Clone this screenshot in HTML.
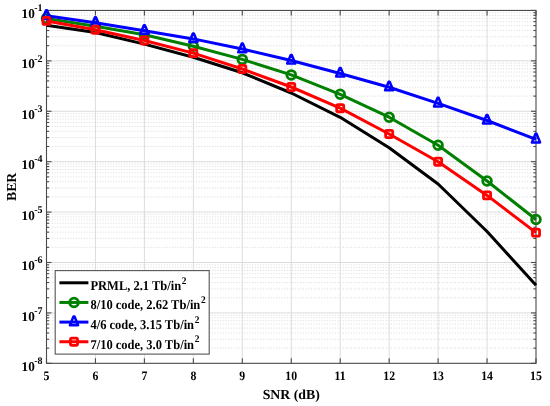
<!DOCTYPE html>
<html><head><meta charset="utf-8"><style>
html,body{margin:0;padding:0;background:#fff;}
svg{display:block;}
text{font-family:"Liberation Serif","Times New Roman",serif;font-weight:bold;fill:#000;text-rendering:geometricPrecision;}
.tl{font-size:13.2px;}
.xt{font-size:11.8px;}
.al{font-size:13.8px;}
.lg{font-size:12.5px;}
.sup{font-size:10px;}
.lsup{font-size:9.4px;}
.g{stroke:#dcdcdc;stroke-width:1;}
.mg{stroke:#dadada;stroke-width:1;stroke-dasharray:1 1.67;}
.t{stroke:#4a4a4a;stroke-width:1.1;}
</style></head><body>
<svg width="550" height="406" viewBox="0 0 550 406">
<rect x="0" y="0" width="550" height="406" fill="#fff"/>
<line x1="46.5" y1="45.69" x2="536.0" y2="45.69" class="mg"/>
<line x1="46.5" y1="36.81" x2="536.0" y2="36.81" class="mg"/>
<line x1="46.5" y1="30.51" x2="536.0" y2="30.51" class="mg"/>
<line x1="46.5" y1="25.62" x2="536.0" y2="25.62" class="mg"/>
<line x1="46.5" y1="21.63" x2="536.0" y2="21.63" class="mg"/>
<line x1="46.5" y1="18.26" x2="536.0" y2="18.26" class="mg"/>
<line x1="46.5" y1="15.34" x2="536.0" y2="15.34" class="mg"/>
<line x1="46.5" y1="12.76" x2="536.0" y2="12.76" class="mg"/>
<line x1="46.5" y1="96.10" x2="536.0" y2="96.10" class="mg"/>
<line x1="46.5" y1="87.22" x2="536.0" y2="87.22" class="mg"/>
<line x1="46.5" y1="80.92" x2="536.0" y2="80.92" class="mg"/>
<line x1="46.5" y1="76.03" x2="536.0" y2="76.03" class="mg"/>
<line x1="46.5" y1="72.04" x2="536.0" y2="72.04" class="mg"/>
<line x1="46.5" y1="68.67" x2="536.0" y2="68.67" class="mg"/>
<line x1="46.5" y1="65.75" x2="536.0" y2="65.75" class="mg"/>
<line x1="46.5" y1="63.17" x2="536.0" y2="63.17" class="mg"/>
<line x1="46.5" y1="146.51" x2="536.0" y2="146.51" class="mg"/>
<line x1="46.5" y1="137.63" x2="536.0" y2="137.63" class="mg"/>
<line x1="46.5" y1="131.33" x2="536.0" y2="131.33" class="mg"/>
<line x1="46.5" y1="126.44" x2="536.0" y2="126.44" class="mg"/>
<line x1="46.5" y1="122.45" x2="536.0" y2="122.45" class="mg"/>
<line x1="46.5" y1="119.08" x2="536.0" y2="119.08" class="mg"/>
<line x1="46.5" y1="116.16" x2="536.0" y2="116.16" class="mg"/>
<line x1="46.5" y1="113.58" x2="536.0" y2="113.58" class="mg"/>
<line x1="46.5" y1="196.92" x2="536.0" y2="196.92" class="mg"/>
<line x1="46.5" y1="188.04" x2="536.0" y2="188.04" class="mg"/>
<line x1="46.5" y1="181.74" x2="536.0" y2="181.74" class="mg"/>
<line x1="46.5" y1="176.85" x2="536.0" y2="176.85" class="mg"/>
<line x1="46.5" y1="172.86" x2="536.0" y2="172.86" class="mg"/>
<line x1="46.5" y1="169.49" x2="536.0" y2="169.49" class="mg"/>
<line x1="46.5" y1="166.57" x2="536.0" y2="166.57" class="mg"/>
<line x1="46.5" y1="163.99" x2="536.0" y2="163.99" class="mg"/>
<line x1="46.5" y1="247.33" x2="536.0" y2="247.33" class="mg"/>
<line x1="46.5" y1="238.45" x2="536.0" y2="238.45" class="mg"/>
<line x1="46.5" y1="232.15" x2="536.0" y2="232.15" class="mg"/>
<line x1="46.5" y1="227.26" x2="536.0" y2="227.26" class="mg"/>
<line x1="46.5" y1="223.27" x2="536.0" y2="223.27" class="mg"/>
<line x1="46.5" y1="219.90" x2="536.0" y2="219.90" class="mg"/>
<line x1="46.5" y1="216.98" x2="536.0" y2="216.98" class="mg"/>
<line x1="46.5" y1="214.40" x2="536.0" y2="214.40" class="mg"/>
<line x1="46.5" y1="297.74" x2="536.0" y2="297.74" class="mg"/>
<line x1="46.5" y1="288.86" x2="536.0" y2="288.86" class="mg"/>
<line x1="46.5" y1="282.56" x2="536.0" y2="282.56" class="mg"/>
<line x1="46.5" y1="277.67" x2="536.0" y2="277.67" class="mg"/>
<line x1="46.5" y1="273.68" x2="536.0" y2="273.68" class="mg"/>
<line x1="46.5" y1="270.31" x2="536.0" y2="270.31" class="mg"/>
<line x1="46.5" y1="267.39" x2="536.0" y2="267.39" class="mg"/>
<line x1="46.5" y1="264.81" x2="536.0" y2="264.81" class="mg"/>
<line x1="46.5" y1="348.15" x2="536.0" y2="348.15" class="mg"/>
<line x1="46.5" y1="339.27" x2="536.0" y2="339.27" class="mg"/>
<line x1="46.5" y1="332.97" x2="536.0" y2="332.97" class="mg"/>
<line x1="46.5" y1="328.08" x2="536.0" y2="328.08" class="mg"/>
<line x1="46.5" y1="324.09" x2="536.0" y2="324.09" class="mg"/>
<line x1="46.5" y1="320.72" x2="536.0" y2="320.72" class="mg"/>
<line x1="46.5" y1="317.80" x2="536.0" y2="317.80" class="mg"/>
<line x1="46.5" y1="315.22" x2="536.0" y2="315.22" class="mg"/>
<line x1="95.45" y1="10.45" x2="95.45" y2="363.32" class="g"/>
<line x1="144.40" y1="10.45" x2="144.40" y2="363.32" class="g"/>
<line x1="193.35" y1="10.45" x2="193.35" y2="363.32" class="g"/>
<line x1="242.30" y1="10.45" x2="242.30" y2="363.32" class="g"/>
<line x1="291.25" y1="10.45" x2="291.25" y2="363.32" class="g"/>
<line x1="340.20" y1="10.45" x2="340.20" y2="363.32" class="g"/>
<line x1="389.15" y1="10.45" x2="389.15" y2="363.32" class="g"/>
<line x1="438.10" y1="10.45" x2="438.10" y2="363.32" class="g"/>
<line x1="487.05" y1="10.45" x2="487.05" y2="363.32" class="g"/>
<line x1="46.5" y1="60.86" x2="536.0" y2="60.86" class="g"/>
<line x1="46.5" y1="111.27" x2="536.0" y2="111.27" class="g"/>
<line x1="46.5" y1="161.68" x2="536.0" y2="161.68" class="g"/>
<line x1="46.5" y1="212.09" x2="536.0" y2="212.09" class="g"/>
<line x1="46.5" y1="262.50" x2="536.0" y2="262.50" class="g"/>
<line x1="46.5" y1="312.91" x2="536.0" y2="312.91" class="g"/>
<rect x="46.5" y="10.45" width="489.50" height="352.87" fill="none" stroke="#4a4a4a" stroke-width="1.1"/>
<line x1="46.50" y1="363.32" x2="46.50" y2="358.32" class="t"/>
<line x1="46.50" y1="10.45" x2="46.50" y2="15.45" class="t"/>
<line x1="95.45" y1="363.32" x2="95.45" y2="358.32" class="t"/>
<line x1="95.45" y1="10.45" x2="95.45" y2="15.45" class="t"/>
<line x1="144.40" y1="363.32" x2="144.40" y2="358.32" class="t"/>
<line x1="144.40" y1="10.45" x2="144.40" y2="15.45" class="t"/>
<line x1="193.35" y1="363.32" x2="193.35" y2="358.32" class="t"/>
<line x1="193.35" y1="10.45" x2="193.35" y2="15.45" class="t"/>
<line x1="242.30" y1="363.32" x2="242.30" y2="358.32" class="t"/>
<line x1="242.30" y1="10.45" x2="242.30" y2="15.45" class="t"/>
<line x1="291.25" y1="363.32" x2="291.25" y2="358.32" class="t"/>
<line x1="291.25" y1="10.45" x2="291.25" y2="15.45" class="t"/>
<line x1="340.20" y1="363.32" x2="340.20" y2="358.32" class="t"/>
<line x1="340.20" y1="10.45" x2="340.20" y2="15.45" class="t"/>
<line x1="389.15" y1="363.32" x2="389.15" y2="358.32" class="t"/>
<line x1="389.15" y1="10.45" x2="389.15" y2="15.45" class="t"/>
<line x1="438.10" y1="363.32" x2="438.10" y2="358.32" class="t"/>
<line x1="438.10" y1="10.45" x2="438.10" y2="15.45" class="t"/>
<line x1="487.05" y1="363.32" x2="487.05" y2="358.32" class="t"/>
<line x1="487.05" y1="10.45" x2="487.05" y2="15.45" class="t"/>
<line x1="536.00" y1="363.32" x2="536.00" y2="358.32" class="t"/>
<line x1="536.00" y1="10.45" x2="536.00" y2="15.45" class="t"/>
<line x1="46.5" y1="10.45" x2="51.5" y2="10.45" class="t"/>
<line x1="536.0" y1="10.45" x2="531.0" y2="10.45" class="t"/>
<line x1="46.5" y1="45.69" x2="49.1" y2="45.69" class="t"/>
<line x1="536.0" y1="45.69" x2="533.4" y2="45.69" class="t"/>
<line x1="46.5" y1="36.81" x2="49.1" y2="36.81" class="t"/>
<line x1="536.0" y1="36.81" x2="533.4" y2="36.81" class="t"/>
<line x1="46.5" y1="30.51" x2="49.1" y2="30.51" class="t"/>
<line x1="536.0" y1="30.51" x2="533.4" y2="30.51" class="t"/>
<line x1="46.5" y1="25.62" x2="49.1" y2="25.62" class="t"/>
<line x1="536.0" y1="25.62" x2="533.4" y2="25.62" class="t"/>
<line x1="46.5" y1="21.63" x2="49.1" y2="21.63" class="t"/>
<line x1="536.0" y1="21.63" x2="533.4" y2="21.63" class="t"/>
<line x1="46.5" y1="18.26" x2="49.1" y2="18.26" class="t"/>
<line x1="536.0" y1="18.26" x2="533.4" y2="18.26" class="t"/>
<line x1="46.5" y1="15.34" x2="49.1" y2="15.34" class="t"/>
<line x1="536.0" y1="15.34" x2="533.4" y2="15.34" class="t"/>
<line x1="46.5" y1="12.76" x2="49.1" y2="12.76" class="t"/>
<line x1="536.0" y1="12.76" x2="533.4" y2="12.76" class="t"/>
<line x1="46.5" y1="60.86" x2="51.5" y2="60.86" class="t"/>
<line x1="536.0" y1="60.86" x2="531.0" y2="60.86" class="t"/>
<line x1="46.5" y1="96.10" x2="49.1" y2="96.10" class="t"/>
<line x1="536.0" y1="96.10" x2="533.4" y2="96.10" class="t"/>
<line x1="46.5" y1="87.22" x2="49.1" y2="87.22" class="t"/>
<line x1="536.0" y1="87.22" x2="533.4" y2="87.22" class="t"/>
<line x1="46.5" y1="80.92" x2="49.1" y2="80.92" class="t"/>
<line x1="536.0" y1="80.92" x2="533.4" y2="80.92" class="t"/>
<line x1="46.5" y1="76.03" x2="49.1" y2="76.03" class="t"/>
<line x1="536.0" y1="76.03" x2="533.4" y2="76.03" class="t"/>
<line x1="46.5" y1="72.04" x2="49.1" y2="72.04" class="t"/>
<line x1="536.0" y1="72.04" x2="533.4" y2="72.04" class="t"/>
<line x1="46.5" y1="68.67" x2="49.1" y2="68.67" class="t"/>
<line x1="536.0" y1="68.67" x2="533.4" y2="68.67" class="t"/>
<line x1="46.5" y1="65.75" x2="49.1" y2="65.75" class="t"/>
<line x1="536.0" y1="65.75" x2="533.4" y2="65.75" class="t"/>
<line x1="46.5" y1="63.17" x2="49.1" y2="63.17" class="t"/>
<line x1="536.0" y1="63.17" x2="533.4" y2="63.17" class="t"/>
<line x1="46.5" y1="111.27" x2="51.5" y2="111.27" class="t"/>
<line x1="536.0" y1="111.27" x2="531.0" y2="111.27" class="t"/>
<line x1="46.5" y1="146.51" x2="49.1" y2="146.51" class="t"/>
<line x1="536.0" y1="146.51" x2="533.4" y2="146.51" class="t"/>
<line x1="46.5" y1="137.63" x2="49.1" y2="137.63" class="t"/>
<line x1="536.0" y1="137.63" x2="533.4" y2="137.63" class="t"/>
<line x1="46.5" y1="131.33" x2="49.1" y2="131.33" class="t"/>
<line x1="536.0" y1="131.33" x2="533.4" y2="131.33" class="t"/>
<line x1="46.5" y1="126.44" x2="49.1" y2="126.44" class="t"/>
<line x1="536.0" y1="126.44" x2="533.4" y2="126.44" class="t"/>
<line x1="46.5" y1="122.45" x2="49.1" y2="122.45" class="t"/>
<line x1="536.0" y1="122.45" x2="533.4" y2="122.45" class="t"/>
<line x1="46.5" y1="119.08" x2="49.1" y2="119.08" class="t"/>
<line x1="536.0" y1="119.08" x2="533.4" y2="119.08" class="t"/>
<line x1="46.5" y1="116.16" x2="49.1" y2="116.16" class="t"/>
<line x1="536.0" y1="116.16" x2="533.4" y2="116.16" class="t"/>
<line x1="46.5" y1="113.58" x2="49.1" y2="113.58" class="t"/>
<line x1="536.0" y1="113.58" x2="533.4" y2="113.58" class="t"/>
<line x1="46.5" y1="161.68" x2="51.5" y2="161.68" class="t"/>
<line x1="536.0" y1="161.68" x2="531.0" y2="161.68" class="t"/>
<line x1="46.5" y1="196.92" x2="49.1" y2="196.92" class="t"/>
<line x1="536.0" y1="196.92" x2="533.4" y2="196.92" class="t"/>
<line x1="46.5" y1="188.04" x2="49.1" y2="188.04" class="t"/>
<line x1="536.0" y1="188.04" x2="533.4" y2="188.04" class="t"/>
<line x1="46.5" y1="181.74" x2="49.1" y2="181.74" class="t"/>
<line x1="536.0" y1="181.74" x2="533.4" y2="181.74" class="t"/>
<line x1="46.5" y1="176.85" x2="49.1" y2="176.85" class="t"/>
<line x1="536.0" y1="176.85" x2="533.4" y2="176.85" class="t"/>
<line x1="46.5" y1="172.86" x2="49.1" y2="172.86" class="t"/>
<line x1="536.0" y1="172.86" x2="533.4" y2="172.86" class="t"/>
<line x1="46.5" y1="169.49" x2="49.1" y2="169.49" class="t"/>
<line x1="536.0" y1="169.49" x2="533.4" y2="169.49" class="t"/>
<line x1="46.5" y1="166.57" x2="49.1" y2="166.57" class="t"/>
<line x1="536.0" y1="166.57" x2="533.4" y2="166.57" class="t"/>
<line x1="46.5" y1="163.99" x2="49.1" y2="163.99" class="t"/>
<line x1="536.0" y1="163.99" x2="533.4" y2="163.99" class="t"/>
<line x1="46.5" y1="212.09" x2="51.5" y2="212.09" class="t"/>
<line x1="536.0" y1="212.09" x2="531.0" y2="212.09" class="t"/>
<line x1="46.5" y1="247.33" x2="49.1" y2="247.33" class="t"/>
<line x1="536.0" y1="247.33" x2="533.4" y2="247.33" class="t"/>
<line x1="46.5" y1="238.45" x2="49.1" y2="238.45" class="t"/>
<line x1="536.0" y1="238.45" x2="533.4" y2="238.45" class="t"/>
<line x1="46.5" y1="232.15" x2="49.1" y2="232.15" class="t"/>
<line x1="536.0" y1="232.15" x2="533.4" y2="232.15" class="t"/>
<line x1="46.5" y1="227.26" x2="49.1" y2="227.26" class="t"/>
<line x1="536.0" y1="227.26" x2="533.4" y2="227.26" class="t"/>
<line x1="46.5" y1="223.27" x2="49.1" y2="223.27" class="t"/>
<line x1="536.0" y1="223.27" x2="533.4" y2="223.27" class="t"/>
<line x1="46.5" y1="219.90" x2="49.1" y2="219.90" class="t"/>
<line x1="536.0" y1="219.90" x2="533.4" y2="219.90" class="t"/>
<line x1="46.5" y1="216.98" x2="49.1" y2="216.98" class="t"/>
<line x1="536.0" y1="216.98" x2="533.4" y2="216.98" class="t"/>
<line x1="46.5" y1="214.40" x2="49.1" y2="214.40" class="t"/>
<line x1="536.0" y1="214.40" x2="533.4" y2="214.40" class="t"/>
<line x1="46.5" y1="262.50" x2="51.5" y2="262.50" class="t"/>
<line x1="536.0" y1="262.50" x2="531.0" y2="262.50" class="t"/>
<line x1="46.5" y1="297.74" x2="49.1" y2="297.74" class="t"/>
<line x1="536.0" y1="297.74" x2="533.4" y2="297.74" class="t"/>
<line x1="46.5" y1="288.86" x2="49.1" y2="288.86" class="t"/>
<line x1="536.0" y1="288.86" x2="533.4" y2="288.86" class="t"/>
<line x1="46.5" y1="282.56" x2="49.1" y2="282.56" class="t"/>
<line x1="536.0" y1="282.56" x2="533.4" y2="282.56" class="t"/>
<line x1="46.5" y1="277.67" x2="49.1" y2="277.67" class="t"/>
<line x1="536.0" y1="277.67" x2="533.4" y2="277.67" class="t"/>
<line x1="46.5" y1="273.68" x2="49.1" y2="273.68" class="t"/>
<line x1="536.0" y1="273.68" x2="533.4" y2="273.68" class="t"/>
<line x1="46.5" y1="270.31" x2="49.1" y2="270.31" class="t"/>
<line x1="536.0" y1="270.31" x2="533.4" y2="270.31" class="t"/>
<line x1="46.5" y1="267.39" x2="49.1" y2="267.39" class="t"/>
<line x1="536.0" y1="267.39" x2="533.4" y2="267.39" class="t"/>
<line x1="46.5" y1="264.81" x2="49.1" y2="264.81" class="t"/>
<line x1="536.0" y1="264.81" x2="533.4" y2="264.81" class="t"/>
<line x1="46.5" y1="312.91" x2="51.5" y2="312.91" class="t"/>
<line x1="536.0" y1="312.91" x2="531.0" y2="312.91" class="t"/>
<line x1="46.5" y1="348.15" x2="49.1" y2="348.15" class="t"/>
<line x1="536.0" y1="348.15" x2="533.4" y2="348.15" class="t"/>
<line x1="46.5" y1="339.27" x2="49.1" y2="339.27" class="t"/>
<line x1="536.0" y1="339.27" x2="533.4" y2="339.27" class="t"/>
<line x1="46.5" y1="332.97" x2="49.1" y2="332.97" class="t"/>
<line x1="536.0" y1="332.97" x2="533.4" y2="332.97" class="t"/>
<line x1="46.5" y1="328.08" x2="49.1" y2="328.08" class="t"/>
<line x1="536.0" y1="328.08" x2="533.4" y2="328.08" class="t"/>
<line x1="46.5" y1="324.09" x2="49.1" y2="324.09" class="t"/>
<line x1="536.0" y1="324.09" x2="533.4" y2="324.09" class="t"/>
<line x1="46.5" y1="320.72" x2="49.1" y2="320.72" class="t"/>
<line x1="536.0" y1="320.72" x2="533.4" y2="320.72" class="t"/>
<line x1="46.5" y1="317.80" x2="49.1" y2="317.80" class="t"/>
<line x1="536.0" y1="317.80" x2="533.4" y2="317.80" class="t"/>
<line x1="46.5" y1="315.22" x2="49.1" y2="315.22" class="t"/>
<line x1="536.0" y1="315.22" x2="533.4" y2="315.22" class="t"/>
<line x1="46.5" y1="363.32" x2="51.5" y2="363.32" class="t"/>
<line x1="536.0" y1="363.32" x2="531.0" y2="363.32" class="t"/>
<polyline points="46.50,25.30 95.45,32.50 144.40,44.10 193.35,57.20 242.30,72.80 291.25,93.00 340.20,117.30 389.15,147.80 438.10,184.00 487.05,231.50 536.00,285.30" fill="none" stroke="#000000" stroke-width="3.0" stroke-linejoin="round"/>
<polyline points="46.50,18.40 95.45,26.20 144.40,34.80 193.35,46.30 242.30,59.40 291.25,74.90 340.20,94.30 389.15,117.20 438.10,145.30 487.05,181.00 536.00,219.50" fill="none" stroke="#008000" stroke-width="3.0" stroke-linejoin="round"/>
<circle cx="46.50" cy="18.40" r="4.35" fill="none" stroke="#008000" stroke-width="2.8"/>
<circle cx="95.45" cy="26.20" r="4.35" fill="none" stroke="#008000" stroke-width="2.8"/>
<circle cx="144.40" cy="34.80" r="4.35" fill="none" stroke="#008000" stroke-width="2.8"/>
<circle cx="193.35" cy="46.30" r="4.35" fill="none" stroke="#008000" stroke-width="2.8"/>
<circle cx="242.30" cy="59.40" r="4.35" fill="none" stroke="#008000" stroke-width="2.8"/>
<circle cx="291.25" cy="74.90" r="4.35" fill="none" stroke="#008000" stroke-width="2.8"/>
<circle cx="340.20" cy="94.30" r="4.35" fill="none" stroke="#008000" stroke-width="2.8"/>
<circle cx="389.15" cy="117.20" r="4.35" fill="none" stroke="#008000" stroke-width="2.8"/>
<circle cx="438.10" cy="145.30" r="4.35" fill="none" stroke="#008000" stroke-width="2.8"/>
<circle cx="487.05" cy="181.00" r="4.35" fill="none" stroke="#008000" stroke-width="2.8"/>
<circle cx="536.00" cy="219.50" r="4.35" fill="none" stroke="#008000" stroke-width="2.8"/>
<polyline points="46.50,15.80 95.45,22.70 144.40,30.70 193.35,38.90 242.30,49.05 291.25,60.50 340.20,73.45 389.15,87.25 438.10,103.35 487.05,120.50 536.00,139.35" fill="none" stroke="#0000ff" stroke-width="3.0" stroke-linejoin="round"/>
<path d="M46.00 10.30L47.00 10.30L50.60 18.90L42.40 18.90Z" fill="none" stroke="#0000ff" stroke-width="2.5" stroke-linejoin="round"/>
<path d="M94.95 17.20L95.95 17.20L99.55 25.80L91.35 25.80Z" fill="none" stroke="#0000ff" stroke-width="2.5" stroke-linejoin="round"/>
<path d="M143.90 25.20L144.90 25.20L148.50 33.80L140.30 33.80Z" fill="none" stroke="#0000ff" stroke-width="2.5" stroke-linejoin="round"/>
<path d="M192.85 33.40L193.85 33.40L197.45 42.00L189.25 42.00Z" fill="none" stroke="#0000ff" stroke-width="2.5" stroke-linejoin="round"/>
<path d="M241.80 43.55L242.80 43.55L246.40 52.15L238.20 52.15Z" fill="none" stroke="#0000ff" stroke-width="2.5" stroke-linejoin="round"/>
<path d="M290.75 55.00L291.75 55.00L295.35 63.60L287.15 63.60Z" fill="none" stroke="#0000ff" stroke-width="2.5" stroke-linejoin="round"/>
<path d="M339.70 67.95L340.70 67.95L344.30 76.55L336.10 76.55Z" fill="none" stroke="#0000ff" stroke-width="2.5" stroke-linejoin="round"/>
<path d="M388.65 81.75L389.65 81.75L393.25 90.35L385.05 90.35Z" fill="none" stroke="#0000ff" stroke-width="2.5" stroke-linejoin="round"/>
<path d="M437.60 97.85L438.60 97.85L442.20 106.45L434.00 106.45Z" fill="none" stroke="#0000ff" stroke-width="2.5" stroke-linejoin="round"/>
<path d="M486.55 115.00L487.55 115.00L491.15 123.60L482.95 123.60Z" fill="none" stroke="#0000ff" stroke-width="2.5" stroke-linejoin="round"/>
<path d="M535.50 133.85L536.50 133.85L540.10 142.45L531.90 142.45Z" fill="none" stroke="#0000ff" stroke-width="2.5" stroke-linejoin="round"/>
<polyline points="46.50,20.90 95.45,29.70 144.40,40.50 193.35,53.10 242.30,69.00 291.25,87.00 340.20,108.20 389.15,134.00 438.10,161.70 487.05,195.40 536.00,232.60" fill="none" stroke="#ff0000" stroke-width="3.0" stroke-linejoin="round"/>
<rect x="42.95" y="17.35" width="7.10" height="7.10" rx="1.5" fill="none" stroke="#ff0000" stroke-width="2.8" stroke-linejoin="round"/>
<rect x="91.90" y="26.15" width="7.10" height="7.10" rx="1.5" fill="none" stroke="#ff0000" stroke-width="2.8" stroke-linejoin="round"/>
<rect x="140.85" y="36.95" width="7.10" height="7.10" rx="1.5" fill="none" stroke="#ff0000" stroke-width="2.8" stroke-linejoin="round"/>
<rect x="189.80" y="49.55" width="7.10" height="7.10" rx="1.5" fill="none" stroke="#ff0000" stroke-width="2.8" stroke-linejoin="round"/>
<rect x="238.75" y="65.45" width="7.10" height="7.10" rx="1.5" fill="none" stroke="#ff0000" stroke-width="2.8" stroke-linejoin="round"/>
<rect x="287.70" y="83.45" width="7.10" height="7.10" rx="1.5" fill="none" stroke="#ff0000" stroke-width="2.8" stroke-linejoin="round"/>
<rect x="336.65" y="104.65" width="7.10" height="7.10" rx="1.5" fill="none" stroke="#ff0000" stroke-width="2.8" stroke-linejoin="round"/>
<rect x="385.60" y="130.45" width="7.10" height="7.10" rx="1.5" fill="none" stroke="#ff0000" stroke-width="2.8" stroke-linejoin="round"/>
<rect x="434.55" y="158.15" width="7.10" height="7.10" rx="1.5" fill="none" stroke="#ff0000" stroke-width="2.8" stroke-linejoin="round"/>
<rect x="483.50" y="191.85" width="7.10" height="7.10" rx="1.5" fill="none" stroke="#ff0000" stroke-width="2.8" stroke-linejoin="round"/>
<rect x="532.45" y="229.05" width="7.10" height="7.10" rx="1.5" fill="none" stroke="#ff0000" stroke-width="2.8" stroke-linejoin="round"/>
<text transform="translate(46.50 380.3) scale(1 1.1)" text-anchor="middle" class="xt">5</text>
<text transform="translate(95.45 380.3) scale(1 1.1)" text-anchor="middle" class="xt">6</text>
<text transform="translate(144.40 380.3) scale(1 1.1)" text-anchor="middle" class="xt">7</text>
<text transform="translate(193.35 380.3) scale(1 1.1)" text-anchor="middle" class="xt">8</text>
<text transform="translate(242.30 380.3) scale(1 1.1)" text-anchor="middle" class="xt">9</text>
<text transform="translate(291.25 380.3) scale(1 1.1)" text-anchor="middle" class="xt">10</text>
<text transform="translate(340.20 380.3) scale(1 1.1)" text-anchor="middle" class="xt">11</text>
<text transform="translate(389.15 380.3) scale(1 1.1)" text-anchor="middle" class="xt">12</text>
<text transform="translate(438.10 380.3) scale(1 1.1)" text-anchor="middle" class="xt">13</text>
<text transform="translate(487.05 380.3) scale(1 1.1)" text-anchor="middle" class="xt">14</text>
<text transform="translate(536.00 380.3) scale(1 1.1)" text-anchor="middle" class="xt">15</text>
<text transform="translate(42.5 18.05) scale(1 1.02)" text-anchor="end" class="tl">10<tspan class="sup" dx="-0.6" dy="-6.8">-1</tspan></text>
<text transform="translate(42.5 68.46) scale(1 1.02)" text-anchor="end" class="tl">10<tspan class="sup" dx="-0.6" dy="-6.8">-2</tspan></text>
<text transform="translate(42.5 118.87) scale(1 1.02)" text-anchor="end" class="tl">10<tspan class="sup" dx="-0.6" dy="-6.8">-3</tspan></text>
<text transform="translate(42.5 169.28) scale(1 1.02)" text-anchor="end" class="tl">10<tspan class="sup" dx="-0.6" dy="-6.8">-4</tspan></text>
<text transform="translate(42.5 219.69) scale(1 1.02)" text-anchor="end" class="tl">10<tspan class="sup" dx="-0.6" dy="-6.8">-5</tspan></text>
<text transform="translate(42.5 270.10) scale(1 1.02)" text-anchor="end" class="tl">10<tspan class="sup" dx="-0.6" dy="-6.8">-6</tspan></text>
<text transform="translate(42.5 320.51) scale(1 1.02)" text-anchor="end" class="tl">10<tspan class="sup" dx="-0.6" dy="-6.8">-7</tspan></text>
<text transform="translate(42.5 370.92) scale(1 1.02)" text-anchor="end" class="tl">10<tspan class="sup" dx="-0.6" dy="-6.8">-8</tspan></text>
<text x="291.25" y="398.5" text-anchor="middle" class="al">SNR (dB)</text>
<text transform="translate(16.2 186.88) rotate(-90)" text-anchor="middle" class="al">BER</text>
<rect x="55.2" y="270.6" width="154.00" height="83.50" fill="#fff" stroke="#555" stroke-width="1.1"/>
<line x1="59.4" y1="282.80" x2="88.4" y2="282.80" stroke="#000000" stroke-width="3.0"/>
<text transform="translate(90.45 289.70) scale(1 1.08)" class="lg">PRML, 2.1 Tb/in<tspan class="lsup" dx="0.6" dy="-5.6">2</tspan></text>
<line x1="59.4" y1="302.45" x2="88.4" y2="302.45" stroke="#008000" stroke-width="3.0"/>
<circle cx="74.00" cy="302.45" r="4.35" fill="none" stroke="#008000" stroke-width="2.8"/>
<text transform="translate(90.45 309.30) scale(1 1.08)" class="lg">8/10 code, 2.62 Tb/in<tspan class="lsup" dx="0.6" dy="-5.6">2</tspan></text>
<line x1="59.4" y1="322.10" x2="88.4" y2="322.10" stroke="#0000ff" stroke-width="3.0"/>
<path d="M73.50 316.60L74.50 316.60L78.10 325.20L69.90 325.20Z" fill="none" stroke="#0000ff" stroke-width="2.5" stroke-linejoin="round"/>
<text transform="translate(90.45 328.90) scale(1 1.08)" class="lg">4/6 code, 3.15 Tb/in<tspan class="lsup" dx="0.6" dy="-5.6">2</tspan></text>
<line x1="59.4" y1="341.75" x2="88.4" y2="341.75" stroke="#ff0000" stroke-width="3.0"/>
<rect x="70.45" y="338.20" width="7.10" height="7.10" rx="1.5" fill="none" stroke="#ff0000" stroke-width="2.8" stroke-linejoin="round"/>
<text transform="translate(90.45 348.50) scale(1 1.08)" class="lg">7/10 code, 3.0 Tb/in<tspan class="lsup" dx="0.6" dy="-5.6">2</tspan></text>
</svg>
</body></html>
